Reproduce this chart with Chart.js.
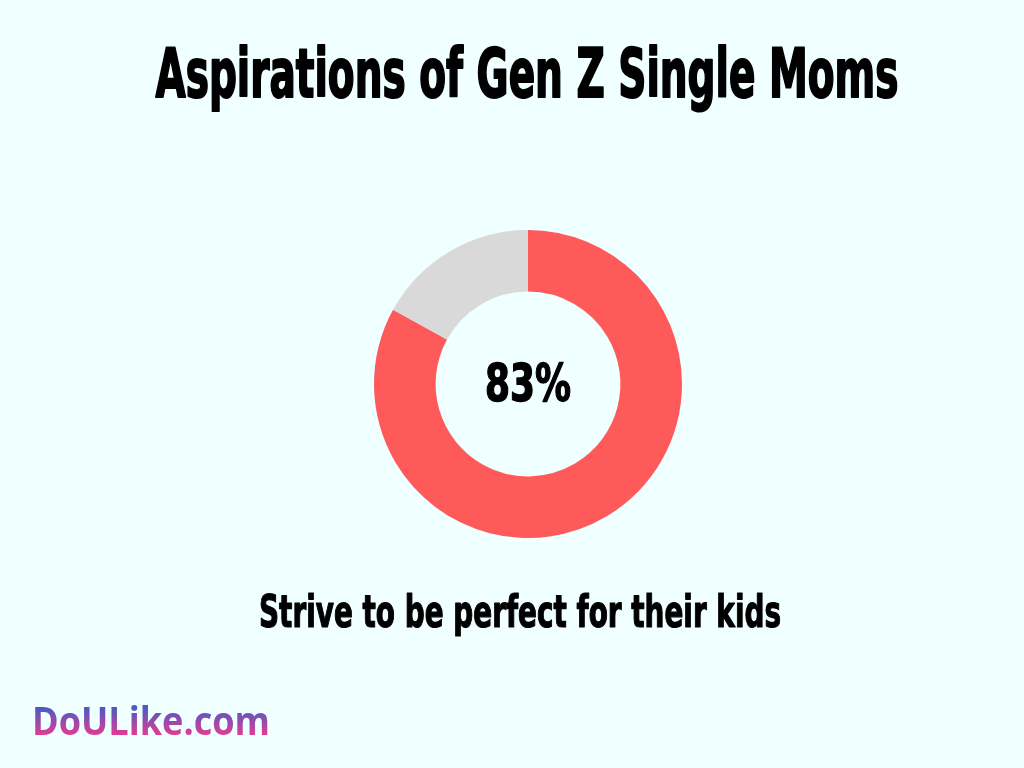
<!DOCTYPE html>
<html>
<head>
<meta charset="utf-8">
<script src="https://cdn.jsdelivr.net/npm/chart.js@4"></script>
<style>
html,body{margin:0;padding:0;background:#F0FFFF;}
#wrap{width:1024px;height:768px;position:relative;}
</style>
</head>
<body>
<div id="wrap"><canvas id="c" width="1024" height="768"></canvas></div>
<script>
const categories = ["Strive to be perfect for their kids", "Others"];
const values = [83, 17];
const colors = ["#FF5A5A", "#D9D9D9"];
const titleText = "Aspirations of Gen Z Single Moms";
const subtitleText = "Strive to be perfect for their kids";
const centerText = values[0] + "%";
const logoText = "DoULike.com";

const condensed = '"Liberation Sans Narrow", "DejaVu Sans Condensed", "Liberation Sans", sans-serif';

function fitText(ctx, text, cx, baseline, size, targetW, color, stroke) {
  ctx.save();
  ctx.font = "bold " + size + "px " + condensed;
  const w = ctx.measureText(text).width;
  const sx = targetW / w;
  ctx.translate(cx, baseline);
  ctx.scale(sx, 1);
  ctx.fillStyle = color;
  ctx.strokeStyle = color;
  ctx.lineJoin = "round";
  ctx.lineWidth = stroke || 0;
  ctx.textAlign = "center";
  ctx.textBaseline = "alphabetic";
  ctx.fillText(text, 0, 0);
  if (stroke) ctx.strokeText(text, 0, 0);
  ctx.restore();
}

const textPlugin = {
  id: "texts",
  afterDraw(chart) {
    const ctx = chart.ctx;
    fitText(ctx, titleText, 527, 97, 67, 743, "#000", 2);
    fitText(ctx, subtitleText, 520, 627, 45, 522, "#000", 1.2);
    const meta = chart.getDatasetMeta(0).data[0];
    fitText(ctx, centerText, meta.x, 401, 51, 86, "#000", 1.4);
    // logo
    ctx.save();
    ctx.font = 'bold 40px "Open Sans", "Noto Sans", sans-serif';
    const w = ctx.measureText(logoText).width;
    ctx.translate(32, 735);
    ctx.scale(238 / w, 1);
    const grad = ctx.createLinearGradient(0, -30, 0, 0);
    grad.addColorStop(0, "#3D5CC9");
    grad.addColorStop(1, "#E23C94");
    ctx.fillStyle = grad;
    ctx.textAlign = "left";
    ctx.textBaseline = "alphabetic";
    ctx.fillText(logoText, 0, 0);
    ctx.restore();
  }
};

new Chart(document.getElementById("c"), {
  type: "doughnut",
  data: {
    labels: categories,
    datasets: [{
      data: values,
      backgroundColor: colors,
      borderWidth: 0,
      hoverOffset: 0
    }]
  },
  options: {
    responsive: false,
    animation: false,
    cutout: "60%",
    layout: { padding: { top: 230, bottom: 230, left: 374, right: 342 } },
    plugins: { legend: { display: false }, tooltip: { enabled: false } }
  },
  plugins: [textPlugin]
});
</script>
</body>
</html>
